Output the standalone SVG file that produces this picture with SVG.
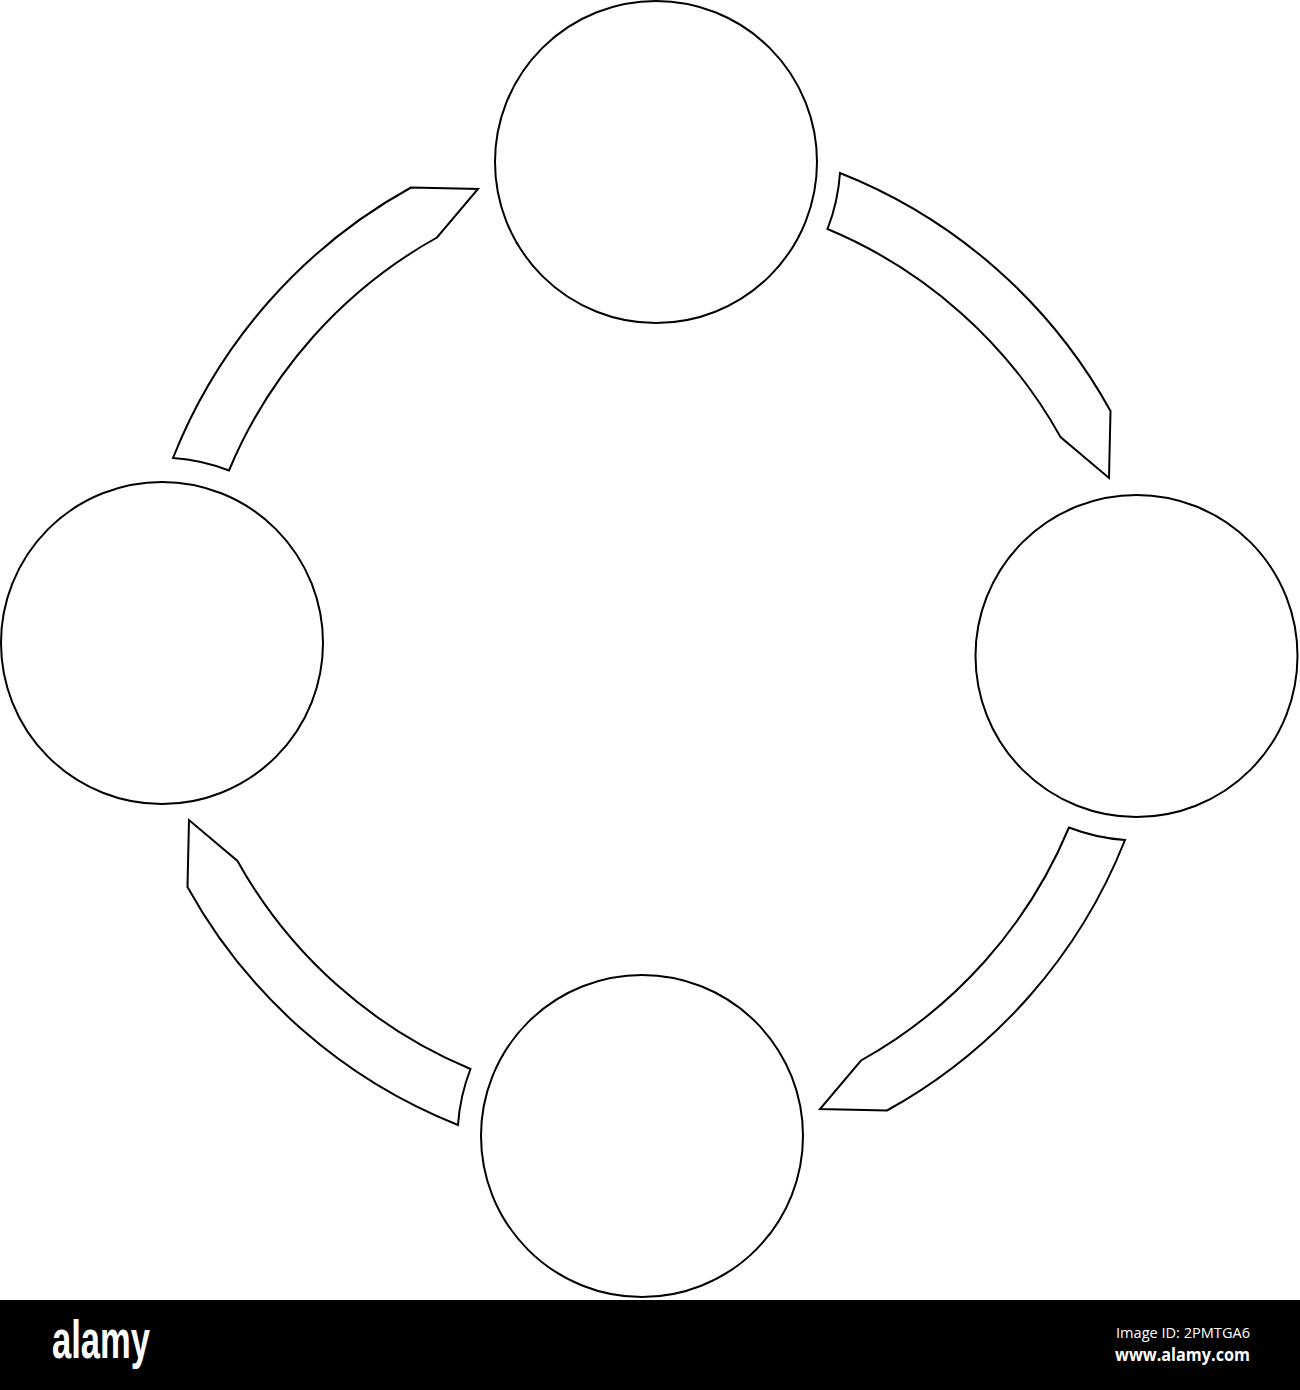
<svg xmlns="http://www.w3.org/2000/svg" xmlns:xlink="http://www.w3.org/1999/xlink" width="1300" height="1390" viewBox="0 0 1300 1390">
  <style>
    .node { fill: #ffffff; stroke: #000000; stroke-width: 2; }
    .arrow { fill: #ffffff; stroke: #000000; stroke-width: 2; stroke-linejoin: miter; }
    .brand { font-family: "Liberation Sans", Arial, sans-serif; font-weight: bold; fill: #ffffff; }
    .info { font-family: "Open Sans", "Noto Sans", sans-serif; fill: #ffffff; }
  </style>
  <defs>
    <path id="arrowShape" d="M 173 458 A 533 533 0 0 1 411 187.5 L 478 189 L 437 237.5 A 477 477 0 0 0 229 470.5 A 190 190 0 0 0 173 458 Z"/>
  </defs>
  <rect x="0" y="0" width="1300" height="1390" fill="#ffffff"/>

  <g id="connectors">
    <use id="arrow-left-top" xlink:href="#arrowShape" href="#arrowShape" class="arrow"/>
    <use id="arrow-top-right" xlink:href="#arrowShape" href="#arrowShape" class="arrow" transform="rotate(90 649 649)"/>
    <use id="arrow-right-bottom" xlink:href="#arrowShape" href="#arrowShape" class="arrow" transform="rotate(180 649 649)"/>
    <use id="arrow-bottom-left" xlink:href="#arrowShape" href="#arrowShape" class="arrow" transform="rotate(270 649 649)"/>
  </g>

  <g id="node-top"><circle class="node" cx="656" cy="162" r="161"/></g>
  <g id="node-right"><circle class="node" cx="1136.5" cy="656" r="161"/></g>
  <g id="node-bottom"><circle class="node" cx="642" cy="1136" r="161"/></g>
  <g id="node-left"><circle class="node" cx="162" cy="643" r="161"/></g>

  <g id="footer">
    <rect x="0" y="1300" width="1300" height="90" fill="#000000"/>
    <text class="brand" x="52" y="1358" font-size="53" textLength="98" lengthAdjust="spacingAndGlyphs">alamy</text>
    <text class="info" x="1250" y="1338" font-size="15" text-anchor="end" textLength="134" lengthAdjust="spacingAndGlyphs">Image ID: 2PMTGA6</text>
    <text class="info" x="1250" y="1361" font-size="17" font-weight="bold" text-anchor="end" textLength="135" lengthAdjust="spacingAndGlyphs">www.alamy.com</text>
  </g>
</svg>
